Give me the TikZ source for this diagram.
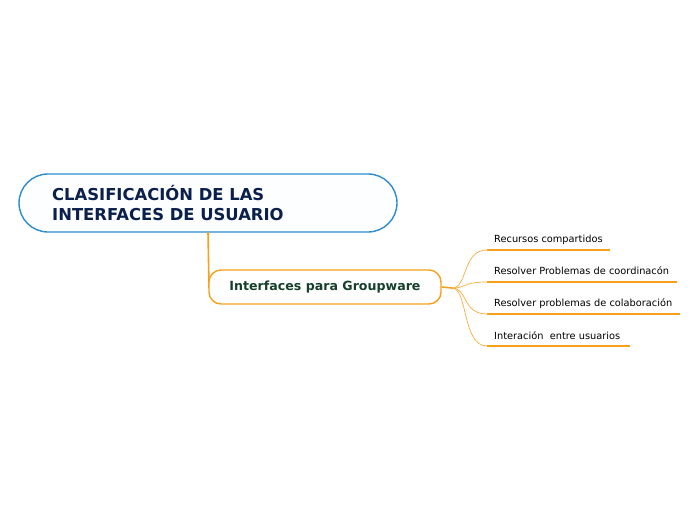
\documentclass[tikz,border=0pt]{standalone}
\usepackage{fontspec}
\setmainfont{DejaVu Sans}
\begin{document}
\begin{tikzpicture}[x=1pt,y=-1pt,
  mainbox/.style={draw=blue1, line width=1.4pt, fill=white!99!cyan, rounded corners=29pt, minimum width=378pt, minimum height=58pt, inner sep=0pt},
  subbox/.style={draw=orange1, line width=1.4pt, fill=white, rounded corners=12pt, minimum width=232pt, minimum height=34pt, inner sep=0pt},
  leaftext/.style={anchor=base west, inner sep=0pt, font=\fontsize{9.8}{11}\selectfont, text=black},
  uline/.style={draw=orange1, line width=2.2pt},
  twig/.style={draw=orange1!85, line width=0.7pt}
]
\definecolor{blue1}{HTML}{2E8BD0}
\definecolor{orange1}{HTML}{F7A01C}
\definecolor{navy}{HTML}{0B1F4D}
\definecolor{dgreen}{HTML}{15402A}
\useasboundingbox (0,0) rectangle (696,520);

\node[mainbox] (main) at (208,203) {};
\node[anchor=west, align=left, inner sep=0pt, text=navy, font=\fontsize{16.4}{20}\selectfont\bfseries] (maint) at (52,203) {CLASIFICACIÓN DE LAS\\INTERFACES DE USUARIO};

\coordinate (drop) at (208,232);
\coordinate (join) at (209,288);
\draw[orange1, line width=1.6pt] (drop) -- (join);
\node[subbox] (gw) at (325,287) {};
\node[text=dgreen, font=\fontsize{12.6}{14}\selectfont\bfseries, inner sep=0pt] (gwt) at (325,287.5) {Interfaces para Groupware};

\coordinate (hub) at (452,288);
\draw[orange1, line width=1.6pt] (gw.east) -- (hub);

\coordinate (l1a) at (487,250); \coordinate (l1b) at (610,250);
\coordinate (l2a) at (487,282); \coordinate (l2b) at (677,282);
\coordinate (l3a) at (487,314); \coordinate (l3b) at (680,314);
\coordinate (l4a) at (487,346); \coordinate (l4b) at (630,346);

\draw[twig] (hub) .. controls (468,288) and (462,250) .. (l1a);
\draw[twig] (hub) .. controls (468,288) and (462,282) .. (l2a);
\draw[twig] (hub) .. controls (468,288) and (462,314) .. (l3a);
\draw[twig] (hub) .. controls (468,288) and (462,346) .. (l4a);

\draw[uline] (l1a) -- (l1b);
\draw[uline] (l2a) -- (l2b);
\draw[uline] (l3a) -- (l3b);
\draw[uline] (l4a) -- (l4b);

\node[leaftext] (t1) at (494,242) {Recursos compartidos};
\node[leaftext] (t2) at (494,274) {Resolver Problemas de coordinacón};
\node[leaftext] (t3) at (494,306) {Resolver problemas de colaboración};
\node[leaftext] (t4) at (494,339) {Interación\ \ entre usuarios};
\end{tikzpicture}
\end{document}
